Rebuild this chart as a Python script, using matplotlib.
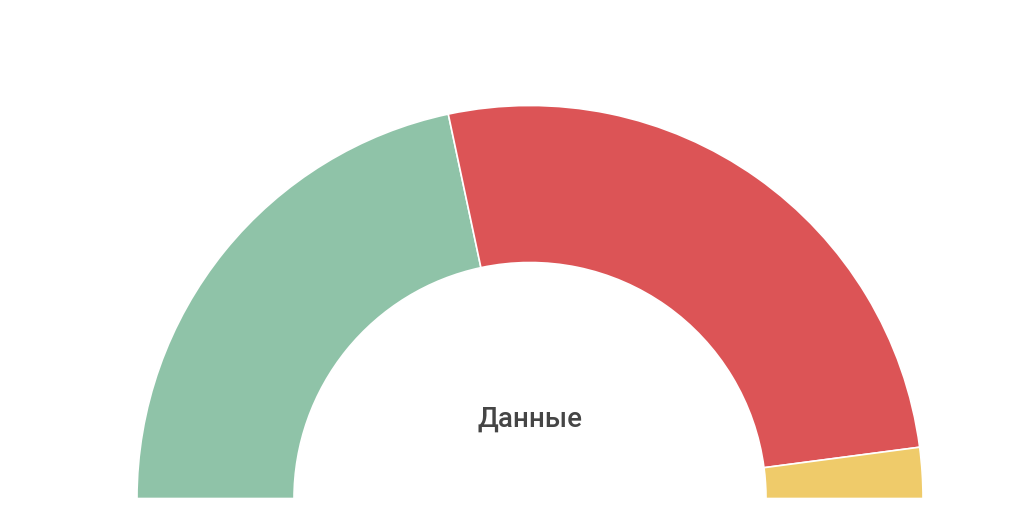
import matplotlib.pyplot as plt

labels = ['Зелёный', 'Красный', 'Жёлтый']
values = [52, 63, 5]
colors = ['#8FC3A8', '#DC5456', '#EFCB6A']
title = 'Данные'

W, H = 1024, 512
fig = plt.figure(figsize=(W / 100, H / 100), dpi=100)
ax = fig.add_axes([0, 0, 1, 1])

total = sum(values)
fracs = [v / total / 2 for v in values]  # half circle

cx, cy = 530, H - 498.5
ax.pie(fracs, center=(cx, cy), radius=393, startangle=180, counterclock=False,
       normalize=False, colors=colors, frame=True,
       wedgeprops=dict(width=157, edgecolor='white', linewidth=1.2))

ax.text(cx, H - 419, title, ha='center', va='center', fontsize=20,
        fontfamily='Roboto', fontweight='medium', color='#454545')

ax.set_xlim(0, W)
ax.set_ylim(0, H)
ax.axis('off')

fig.savefig('out.png', dpi=100)
